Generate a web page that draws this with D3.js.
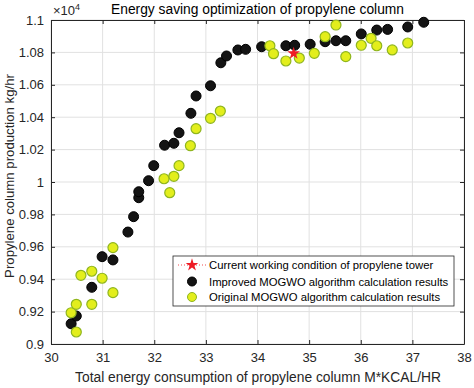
<!DOCTYPE html>
<meta charset="utf-8">
<script src="https://d3js.org/d3.v7.min.js"></script>
<style>
  body { margin: 0; background: #fff; }
  text { font-family: "Liberation Sans", Arial, sans-serif; fill: #262626; }
  .grid line { stroke: #e1e1e1; stroke-width: 1; }
</style>
<body>
<div id="my_dataviz"></div>
<script>
// Improved MOGWO results (energy M*KCAL/HR, production kg/hr)
var improvedX = [30.39, 30.49, 30.79, 30.99, 31.20, 31.49, 31.60, 31.70, 31.70, 31.89,
                 31.99, 32.20, 32.38, 32.48, 32.71, 32.81, 33.09, 33.29, 33.40, 33.62,
                 33.77, 34.08, 34.55, 34.72, 35.02, 35.31, 35.52, 35.71, 36.01, 36.31,
                 36.52, 36.91, 37.22];
var improvedY = [9125, 9173, 9350, 9539, 9519, 9691, 9786, 9903, 9940, 10008,
                 10101, 10227, 10239, 10304, 10424, 10531, 10594, 10736, 10778, 10815,
                 10819, 10835, 10841, 10844, 10850, 10866, 10872, 10872, 10914, 10938,
                 10942, 10957, 10986];
// Original MOGWO results
var originalX = [30.39, 30.49, 30.49, 30.58, 30.79, 30.79, 30.99, 31.20, 31.20, 32.19,
                 32.30, 32.38, 32.48, 32.70, 32.81, 33.09, 33.28, 34.24, 34.31, 34.55,
                 34.81, 35.10, 35.31, 35.52, 35.71, 36.01, 36.20, 36.31, 36.61, 36.91];
var originalY = [9193, 9074, 9245, 9424, 9245, 9449, 9406, 9317, 9595, 10020,
                 9934, 10035, 10101, 10224, 10329, 10393, 10438, 10841, 10792, 10747,
                 10765, 10794, 10897, 10969, 10774, 10844, 10887, 10841, 10815, 10858];
// Current working condition
var currentX = [34.70];
var currentY = [10794];

var xTicks = [30, 31, 32, 33, 34, 35, 36, 37, 38];
var yTicks = [9000, 9200, 9400, 9600, 9800, 10000, 10200, 10400, 10600, 10800, 11000];
var legendLabels = ["Current working condition of propylene tower",
                    "Improved MOGWO algorithm calculation results",
                    "Original MOGWO algorithm calculation results"];

var W = 474, H = 388;
var margin = {left: 51, right: 10, top: 20, bottom: 44};
var w = W - margin.left - margin.right, h = H - margin.top - margin.bottom;

var svg = d3.select("#my_dataviz").append("svg")
  .attr("width", W).attr("height", H);
var g = svg.append("g").attr("transform", "translate(" + margin.left + "," + margin.top + ")");

var x = d3.scaleLinear().domain([30, 38]).range([0, w]);
var y = d3.scaleLinear().domain([9000, 11000]).range([h, 0]);

// grid
g.append("g").attr("class", "grid").selectAll("line").data(xTicks).enter().append("line")
  .attr("x1", d => x(d)).attr("x2", d => x(d)).attr("y1", 0).attr("y2", h);
g.append("g").attr("class", "grid").selectAll("line").data(yTicks).enter().append("line")
  .attr("x1", 0).attr("x2", w).attr("y1", d => y(d)).attr("y2", d => y(d));

// axes, ticks inward
var fmtY = d => d3.format("~g")(d / 1e4);
g.append("g").attr("transform", "translate(0," + h + ")")
  .call(d3.axisBottom(x).tickValues(xTicks).tickSizeInner(-4).tickSizeOuter(0).tickPadding(9));
g.append("g")
  .call(d3.axisLeft(y).tickValues(yTicks).tickFormat(fmtY).tickSizeInner(-4).tickSizeOuter(0).tickPadding(7));
g.append("g")
  .call(d3.axisTop(x).tickValues(xTicks).tickFormat("").tickSizeInner(-4).tickSizeOuter(0));
g.append("g").attr("transform", "translate(" + w + ",0)")
  .call(d3.axisRight(y).tickValues(yTicks).tickFormat("").tickSizeInner(-4).tickSizeOuter(0));
g.selectAll(".domain, .tick line").attr("stroke", "#262626");
g.selectAll(".tick text").style("font-size", "13px").style("fill", "#262626");

// exponent
var ex = svg.append("text").attr("x", 53).attr("y", 15).style("font-size", "13px");
ex.append("tspan").text("\u00d710");
ex.append("tspan").attr("dy", -5).style("font-size", "9px").text("4");

// points
var yellowFill = "#e3ee1c", yellowEdge = "#8fb51e";
g.selectAll(".imp").data(improvedX).enter().append("circle").attr("class", "imp")
  .attr("cx", d => x(d)).attr("cy", (d, i) => y(improvedY[i])).attr("r", 5)
  .attr("fill", "#141414").attr("stroke", "#000");
g.selectAll(".org").data(originalX).enter().append("circle").attr("class", "org")
  .attr("cx", d => x(d)).attr("cy", (d, i) => y(originalY[i])).attr("r", 5)
  .attr("fill", yellowFill).attr("stroke", yellowEdge).attr("stroke-width", 1.2);

var star = d3.symbol().type(d3.symbolStar).size(50);
g.selectAll(".cur").data(currentX).enter().append("path").attr("class", "cur")
  .attr("d", star).attr("fill", "#ee1c25")
  .attr("transform", (d, i) => "translate(" + x(d) + "," + y(currentY[i]) + ")");

// title and labels
svg.append("text").attr("x", margin.left + w / 2).attr("y", 14).attr("text-anchor", "middle")
  .style("font-size", "13.8px").style("fill", "#000").text("Energy saving optimization of propylene column");
svg.append("text").attr("x", 258).attr("y", 382).attr("text-anchor", "middle")
  .style("font-size", "13.8px").text("Total energy consumption of propylene column M*KCAL/HR");
svg.append("text").attr("transform", "translate(14,176) rotate(-90)")
  .attr("text-anchor", "middle").style("font-size", "13.2px").text("Propylene column production kg/hr");

// legend
var lg = svg.append("g");
lg.append("rect").attr("x", 173).attr("y", 256).attr("width", 281).attr("height", 50)
  .attr("fill", "#fff").attr("stroke", "#262626").attr("stroke-width", 0.8);
var rows = [265, 281.5, 297];
lg.append("line").attr("x1", 178).attr("x2", 207).attr("y1", rows[0]).attr("y2", rows[0])
  .attr("stroke", "#ee1c25").attr("stroke-dasharray", "1,2").attr("stroke-width", 0.8);
lg.append("path").attr("d", star).attr("fill", "#ee1c25").attr("transform", "translate(192," + rows[0] + ")");
lg.append("circle").attr("cx", 192).attr("cy", rows[1]).attr("r", 4.5).attr("fill", "#141414").attr("stroke", "#000");
lg.append("circle").attr("cx", 192).attr("cy", rows[2]).attr("r", 4.5).attr("fill", yellowFill).attr("stroke", yellowEdge);
lg.selectAll(".lt").data(legendLabels).enter().append("text").attr("class", "lt")
  .attr("x", 209).attr("y", (d, i) => rows[i] + 4).style("font-size", "11.3px").style("fill", "#000").text(d => d);
</script>
</body>
